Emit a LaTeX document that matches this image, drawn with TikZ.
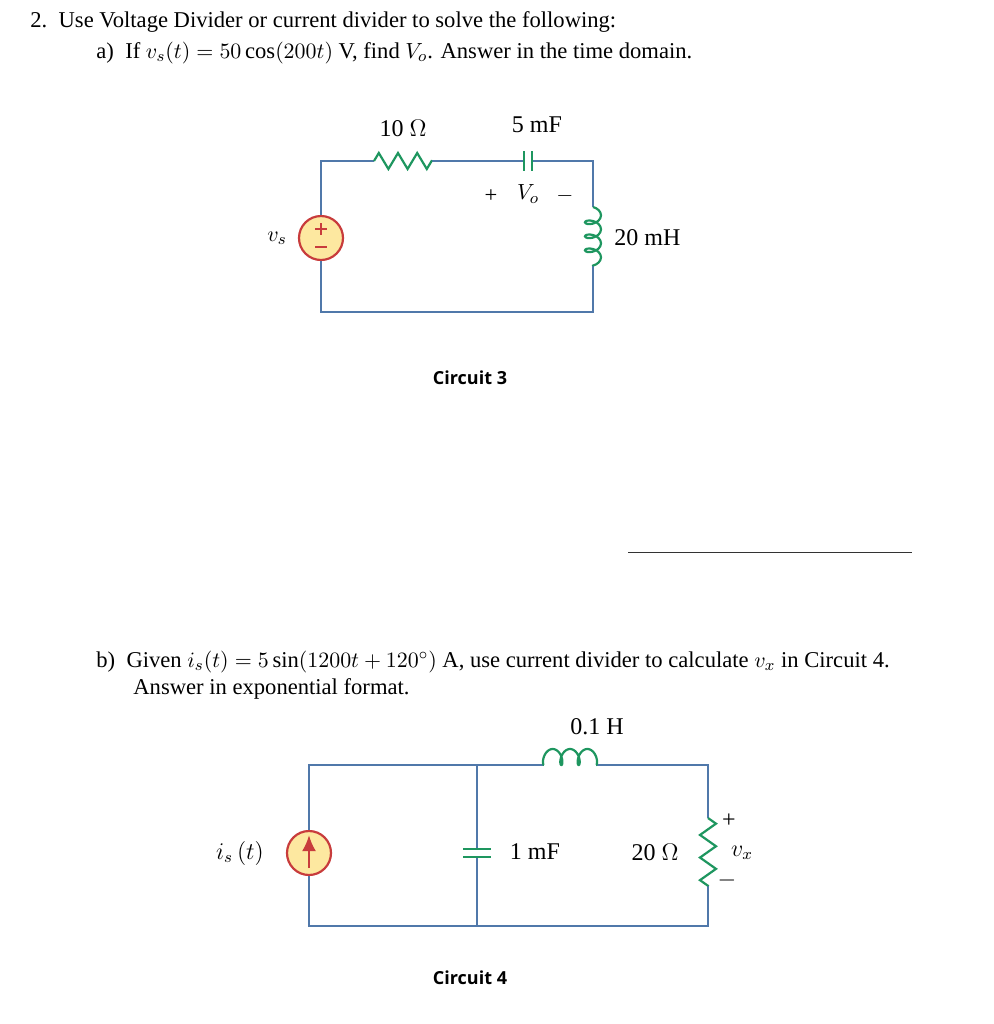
\documentclass[tikz,border=0pt]{standalone}
\usepackage{fontspec}
\setmainfont{Liberation Serif}
\newfontfamily\capfont{Open Sans}
\usetikzlibrary{decorations.pathmorphing,arrows.meta}
\definecolor{wire}{RGB}{80,120,170}
\definecolor{comp}{RGB}{30,150,95}
\definecolor{srcfill}{RGB}{253,232,160}
\definecolor{srcdraw}{RGB}{200,60,60}
\tikzset{
 wirel/.style={draw=wire,line width=1.1pt},
 compl/.style={draw=comp,line width=1.1pt},
 txt/.style={font=\fontsize{11.3}{13}\selectfont,inner sep=0pt},
 lbl/.style={font=\fontsize{12}{14}\selectfont,inner sep=0pt},
 captxt/.style={font=\capfont\bfseries\fontsize{9}{11}\selectfont,inner sep=0pt},
 src/.style={circle,draw=srcdraw,fill=srcfill,line width=1.1pt,minimum size=22pt,inner sep=0pt},
 res/.style={compl,decorate,decoration={zigzag,segment length=9.6pt,amplitude=4pt}},
 ind/.style={compl,decorate,decoration={coil,aspect=0.6,segment length=7pt,amplitude=4pt}}
}
\begin{document}
\begin{tikzpicture}[x=0.5pt,y=-0.5pt]
\useasboundingbox (0,0) rectangle (994,1024);
% text
\node[txt,anchor=west] (t1) at (30,22) {2.\ \ Use Voltage Divider or current divider to solve the following:};
\node[txt,anchor=west] (t2) at (96,53) {a)\ \ If $v_s(t) = 50\cos(200t)$ V, find $V_o$. Answer in the time domain.};
\node[txt,anchor=west] (t3) at (96,662) {b)\ \ Given $i_s(t) = 5\sin(1200t + 120^\circ)$ A, use current divider to calculate $v_x$ in Circuit 4.};
\node[txt,anchor=west] (t4) at (133,689) {Answer in exponential format.};
\draw[black!80,line width=0.5pt] (628,552) coordinate (ul1) -- (912,552) coordinate (ul2);
% circuit 3
\coordinate (a) at (321,161); \coordinate (b) at (593,161);
\coordinate (c) at (593,312); \coordinate (d) at (321,312);
\coordinate (r1) at (374,161); \coordinate (r2) at (432,161);
\coordinate (c1) at (524,161); \coordinate (c2) at (532,161);
\coordinate (l1) at (593,207); \coordinate (l2) at (593,266);
\node[src] (vs) at (321,238) {};
\draw[wirel] (vs.north) -- (a) -- (r1);
\draw[wirel] (r2) -- (c1);
\draw[wirel] (c2) -- (b) -- (l1);
\draw[wirel] (l2) -- (c) -- (d) -- (vs.south);
\draw[res] (r1) -- (r2);
\draw[compl] (524,151) -- (524,171) (532,151) -- (532,171);
\draw[ind] (l1) -- (l2);
\draw[srcdraw,line width=0.9pt] (315,229) -- (327,229) (321,223) -- (321,235) (315,247) -- (327,247);
\node[lbl] (l10) at (403,128) {10 $\Omega$};
\node[lbl] (l5) at (537,125) {5 mF};
\node[txt] (pl) at (491,196) {+};
\node[txt] (vo) at (528,194) {$V_o$};
\node[txt] (mi) at (565,196) {$-$};
\node[lbl,anchor=west] (l20) at (614,238) {20 mH};
\node[txt] (lvs) at (277,238) {$v_s$};
\node[captxt] (C3) at (470,378) {Circuit 3};
% circuit 4
\coordinate (A) at (309,765); \coordinate (M) at (477,765); \coordinate (B) at (708,765);
\coordinate (Cc) at (708,926); \coordinate (Mb) at (477,926); \coordinate (D) at (309,926);
\coordinate (L1) at (544,765); \coordinate (L2) at (596,765);
\coordinate (R1) at (708,818); \coordinate (R2) at (708,886);
\node[src] (is) at (309,853) {};
\draw[wirel] (is.north) -- (A) -- (M) -- (L1);
\draw[wirel] (L2) -- (B) -- (R1);
\draw[wirel] (R2) -- (Cc) -- (Mb) -- (D) -- (is.south);
\draw[wirel] (M) -- (477,849);
\draw[wirel] (477,857) -- (Mb);
\draw[compl] (463,849) -- (491,849) (463,857) -- (491,857);
\draw[compl,smooth,samples=120,domain=0:18.85,variable=\t] plot ({544+2.76*\t-4.5*sin(\t r)},{765-8*(1-cos(\t r))});
\draw[compl,decorate,decoration={zigzag,segment length=11.3pt,amplitude=4pt}] (R1) -- (R2);
\draw[srcdraw,line width=1.3pt,-{Latex[length=8pt,width=7pt]}] (309,868) -- (309,835);
\node[lbl] (l01) at (597,727) {0.1 H};
\node[lbl] (l1m) at (535,852) {1 mF};
\node[lbl] (l20o) at (655,852) {20 $\Omega$};
\node[lbl] (lis) at (240,853) {$i_s\,(t)$};
\node[lbl] (px) at (729,821) {+};
\node[lbl] (vx) at (742,853) {$v_x$};
\node[lbl] (mx) at (727,880) {$-$};
\node[captxt] (C4) at (470,978) {Circuit 4};
\end{tikzpicture}
\end{document}
